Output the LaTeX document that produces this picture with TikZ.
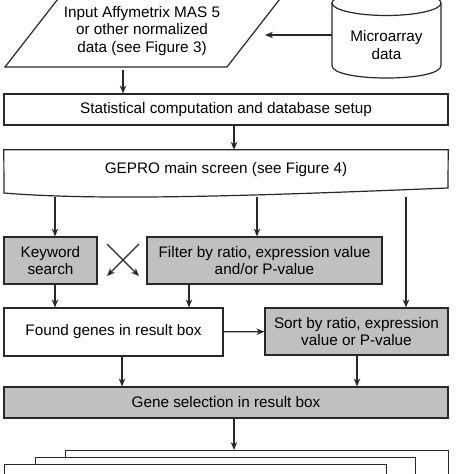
\documentclass[tikz,border=0pt]{standalone}
\usepackage{fontspec}
\setmainfont{Liberation Sans}
\usetikzlibrary{arrows.meta}
\definecolor{boxgray}{RGB}{192,192,192}
\definecolor{linegray}{RGB}{40,40,40}
\tikzset{
  box/.style={draw=linegray, line width=1.2pt, inner sep=0pt, align=center},
  graybox/.style={box, fill=boxgray},
  flow/.style={->, draw=linegray, line width=1.2pt},
  outline/.style={draw=linegray, line width=1.2pt},
}
\begin{document}
\begin{tikzpicture}[x=1pt,y=-1pt,>={Stealth[length=8pt,width=6.5pt]},font=\fontsize{15.3}{17.5}\selectfont]
\clip (0,0) rectangle (474,474);
\fill[white] (0,0) rectangle (474,474);

% --- Top: input data and microarray store ---
\draw[outline] (5,67) -- (227,67) -- (283,-5) -- (61,-5) -- cycle; % parallelogram
\node[align=center] (input) at (142,31) {Input Affymetrix MAS 5\\or other normalized\\data (see Figure 3)};
\draw[outline] (332,3) -- (332,65.5) .. controls (332,82.2) and (441,82.2) .. (441,65.5) -- (441,3);
\draw[outline] (386.5,3) ellipse[x radius=54.5, y radius=12.5]; % cylinder top
\node[align=center, minimum width=109, inner sep=0pt] (micro) at (386.5,45) {Microarray\\data};
\coordinate (inarr) at (265,35);
\draw[flow] (micro.west |- inarr) -- (inarr);

% --- Setup and main screen ---
\node[box, minimum width=444, minimum height=31] (stat) at (226,109.5) {Statistical computation and database setup};
\coordinate (i1) at (123,70);
\draw[flow] (i1) -- (i1 |- stat.north);
\node[minimum width=444, minimum height=40, inner sep=0pt] (gepro) at (226,170) {GEPRO main screen (see Figure 4)};
\draw[outline] (gepro.north west) -- (gepro.north east) -- (448,188)
  .. controls (250,196) and (100,201) .. (4,193) -- cycle; % document shape
\draw[flow] ([xshift=8pt]stat.south) -- ([xshift=8pt]gepro.north);

% --- Search and filter ---
\node[graybox, minimum width=93, minimum height=47] (kw) at (50.5,260.5) {Keyword\\search};
\node[graybox, minimum width=235, minimum height=47] (filter) at (264.5,260.5) {Filter by ratio, expression value\\and/or P-value};
\coordinate (g1) at (55,197);
\coordinate (g2) at (257,197);
\coordinate (g3) at (406,197);
\draw[flow] (g1) -- (g1 |- kw.north);
\draw[flow] (g2) -- (g2 |- filter.north);

% crossing arrows
\coordinate (x1) at (107,244);
\coordinate (x2) at (139,276);
\coordinate (x3) at (139,244);
\coordinate (x4) at (107,276);
\draw[flow] (x1) -- (x2);
\draw[flow] (x3) -- (x4);

% --- Results ---
\node[box, minimum width=219, minimum height=48] (found) at (113.5,332) {Found genes in result box};
\node[graybox, minimum width=183, minimum height=47] (sort) at (356.5,331.5) {Sort by ratio, expression\\value or P-value};
\draw[flow] (kw.south -| g1) -- (found.north -| g1);
\draw[flow] ([xshift=-75.5pt]filter.south) -- ([xshift=-75.5pt]filter.south |- found.north);
\draw[flow] (g3) -- (g3 |- sort.north);
\draw[flow] (found) -- (sort);

% --- Selection and output pages ---
\node[graybox, minimum width=444, minimum height=31] (gene) at (226,402.5) {Gene selection in result box};
\draw[flow] ([xshift=8.5pt]found.south) -- ([xshift=8.5pt]found.south |- gene.north);
\draw[flow] ([xshift=0.5pt]sort.south) -- ([xshift=0.5pt]sort.south |- gene.north);
\node[box, fill=white, minimum width=383, minimum height=60, anchor=north west] (page3) at (65,450) {};
\node[box, fill=white, minimum width=380, minimum height=60, anchor=north west] (page2) at (35,457) {};
\node[box, fill=white, minimum width=382, minimum height=60, anchor=north west] (page1) at (4,464) {};
\draw[flow] ([xshift=8pt]gene.south) -- ([xshift=8pt]gene.south |- page3.north);

\end{tikzpicture}
\end{document}
